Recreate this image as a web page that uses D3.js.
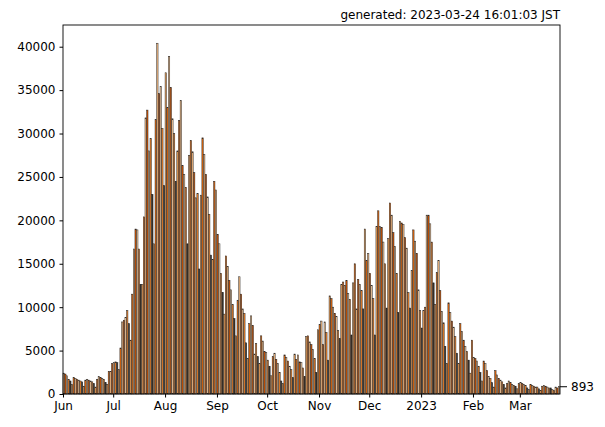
<!DOCTYPE html><html><head><meta charset="utf-8">
<script src="https://cdn.jsdelivr.net/npm/d3@7"></script>
<style>body{margin:0;background:#fff}text{font-family:"DejaVu Sans",sans-serif}</style></head><body>
<svg id="c" width="605" height="427"></svg>
<script>
const startDate = "2022-06-01";
const jun=[2400,2300,2100,1700,1500,1100,1900,1800,1700,1600,1500,1400,900,1600,1700,1600,1500,1400,1200,800,1700,2000,1900,1800,1700,1300,1100,2600,2600,3500];
const jul=[3600,3700,3600,2800,5300,8300,8500,8800,9600,8100,6200,11500,16700,19000,18900,16700,12600,12600,20400,31800,32700,28000,29400,23000,17300,31600,40400,34600,35400,30600,24000];
const aug=[37000,33000,38900,35300,31700,30000,24500,28000,31500,33800,26300,25300,23800,17300,27500,29200,27900,25500,22600,23100,14400,22900,29500,27600,25300,22700,20700,16000,15500,24500,23500];
const sep=[18400,17300,13900,11700,9200,15900,14700,13100,12000,10300,8700,6700,10800,13500,11500,9800,9300,5900,4100,8100,9000,7900,4600,5800,4300,3500,6700,6100,4900,4800];
const oct=[3900,3200,2100,4300,4700,4000,3500,2500,1500,1200,4500,4200,3800,3200,2800,1900,4600,4000,4500,3700,3600,3000,2000,6600,6700,6000,5700,5100,4100,2500,7400];
const nov=[8000,8400,5700,8300,7100,3900,11300,11000,10000,9300,8900,7300,6400,12600,12900,12500,13100,11600,10900,6800,12800,15000,9800,13200,12600,11900,9800,19000,15400,16200];
const dec=[13900,12500,11000,6800,19300,21100,19300,19200,17500,15000,9900,17900,22000,20600,18600,17000,13900,9400,19900,19700,19500,18000,16800,11700,9900,14200,18900,17600,16200,12000,9600];
const jan=[7600,9600,10000,20600,20600,19600,17500,12800,10300,14000,15400,11900,9500,8200,5500,3500,10500,9400,8400,7700,6600,4700,3500,8100,7200,6200,5500,4900,3900,2400,6200];
const feb=[4200,4100,3800,3200,2500,1500,3800,3500,2700,2000,1800,1300,800,2700,2200,1800,1600,1400,1100,700,1200,1500,1300,1100,1000,900,600,1200];
const mar=[1300,1200,1100,1000,700,500,1100,1000,900,800,800,600,400,900,1000,900,800,700,700,500,400,800,700,893];
const yTicks=[0,5000,10000,15000,20000,25000,30000,35000,40000];
const monthLabels=["Jun","Jul","Aug","Sep","Oct","Nov","Dec","2023","Feb","Mar"];
const weekdayColors=["#3a3129","#f0a35a","#e86a0c","#fbbf85","#d45500","#fdd0a2","#f5862a"];
const title="generated: 2023-03-24 16:01:03 JST";

const values=[].concat(jun,jul,aug,sep,oct,nov,dec,jan,feb,mar);
const t0=new Date(startDate+"T00:00:00");
const data=values.map((v,i)=>({d:d3.timeDay.offset(t0,i),v}));
const L=63,R=560,T=25,B=394;
const last=data[data.length-1].d;
const x=d3.scaleTime().domain([t0,d3.timeDay.offset(last,1)]).range([L,R]);
const y=d3.scaleLinear().domain([0,42500]).range([B,T]);
const svg=d3.select("#c");
const bw=x(d3.timeDay.offset(t0,1))-x(t0);
svg.append("g").selectAll("rect").data(data).join("rect")
 .attr("x",d=>x(d.d)).attr("width",bw*0.8).attr("y",d=>y(d.v)).attr("height",d=>B-y(d.v))
 .attr("fill",d=>weekdayColors[d.d.getDay()]).attr("stroke","#222").attr("stroke-width",0.5);
const months=d3.range(10).map(i=>new Date(2022,5+i,1));
const xa=svg.append("g").attr("transform",`translate(0,${B})`).call(d3.axisBottom(x).tickValues(months).tickFormat((d,i)=>monthLabels[i]).tickSize(3.5).tickPadding(4));
const ya=svg.append("g").attr("transform",`translate(${L},0)`).call(d3.axisLeft(y).tickValues(yTicks).tickFormat(d3.format("d")).tickSize(3.5).tickPadding(4));
const ra=svg.append("g").attr("transform",`translate(${R},0)`).call(d3.axisRight(y).tickValues([values[values.length-1]]).tickFormat(d3.format("d")).tickSize(7).tickPadding(4));
[xa,ya,ra].forEach(a=>{a.selectAll("text").attr("font-size",12).attr("fill","#000");a.select(".domain").remove();a.selectAll("line").attr("stroke","#000");});
svg.append("rect").attr("x",L).attr("y",T).attr("width",R-L).attr("height",B-T).attr("fill","none").attr("stroke","#000").attr("stroke-width",0.9);
svg.append("text").attr("x",R).attr("y",T-6).attr("text-anchor","end").attr("font-size",12).text(title);
</script></body></html>
